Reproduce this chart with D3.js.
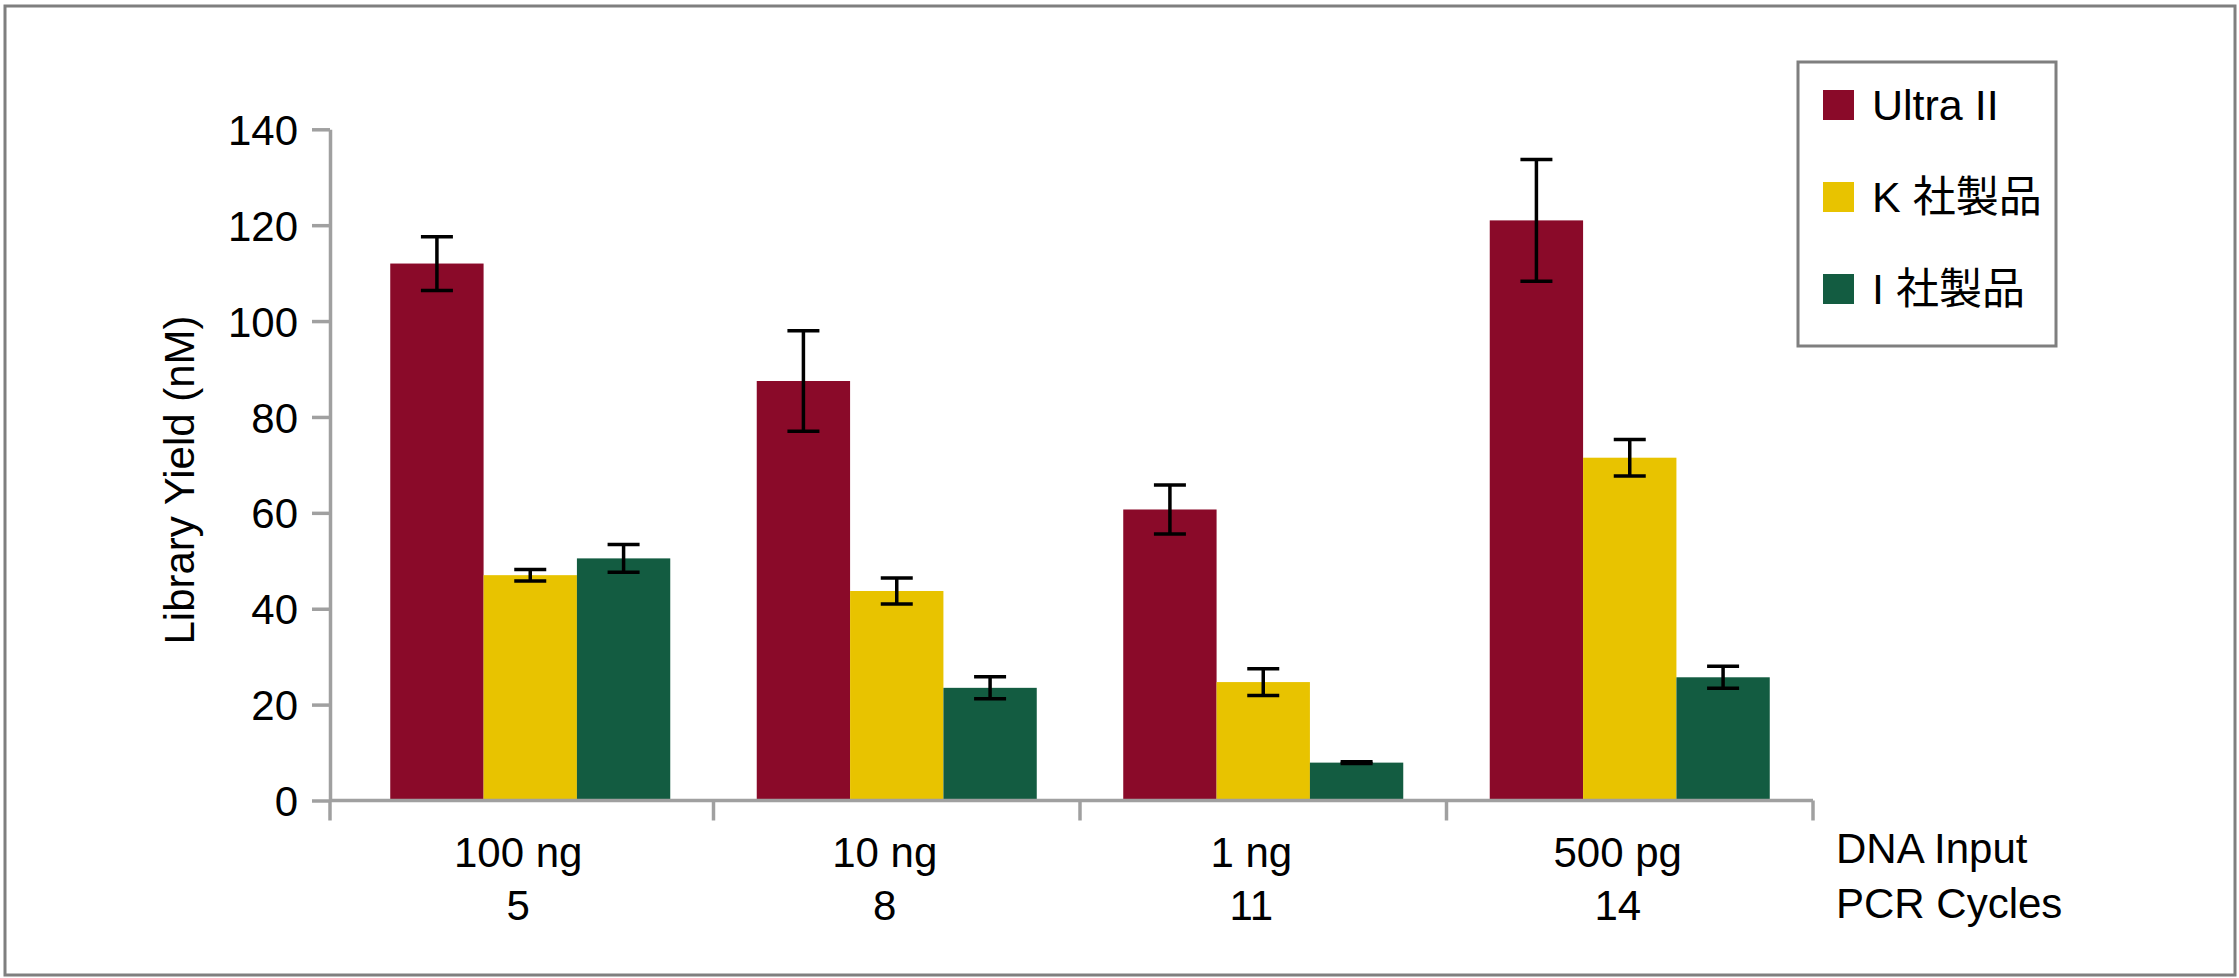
<!DOCTYPE html>
<html>
<head>
<meta charset="utf-8">
<script src="https://cdn.jsdelivr.net/npm/d3@7"></script>
<style>
  body { margin: 0; background: #fff; }
  svg text { font-family: "Liberation Sans", Arial, "Noto Sans CJK JP", sans-serif; fill: #000; }
</style>
</head>
<body>
<svg id="chart" width="2239" height="978"></svg>
<script>
// chart values
var categories = ["100 ng", "10 ng", "1 ng", "500 pg"];
var cycles = ["5", "8", "11", "14"];
var series = ["Ultra II", "K 社製品", "I 社製品"];
var ultraII = [112, 87.5, 60.7, 121];
var ultraIIErr = [5.6, 10.5, 5.1, 12.7];
var kProduct = [47, 43.7, 24.7, 71.5];
var kProductErr = [1.2, 2.7, 2.8, 3.8];
var iProduct = [50.5, 23.5, 7.9, 25.7];
var iProductErr = [2.9, 2.3, 0.2, 2.3];
var yTicks = [0, 20, 40, 60, 80, 100, 120, 140];

var colors = ["#8a0a29", "#e8c300", "#135c41"];
var values = [ultraII, kProduct, iProduct];
var errors = [ultraIIErr, kProductErr, iProductErr];

var svg = d3.select("#chart");

// outer frame
svg.append("rect")
    .attr("x", 5).attr("y", 6)
    .attr("width", 2230).attr("height", 969)
    .attr("fill", "none")
    .attr("stroke", "#7f7f7f")
    .attr("stroke-width", 3);

var axisLeftX = 330;
var y = d3.scaleLinear().domain([0, 140]).range([800.5, 129.3]);

var x0 = d3.scaleBand().domain(categories).range([347, 1813]);
var groupWidth = x0.bandwidth() * 0.764;
var x1 = d3.scaleBand().domain(series)
    .range([(x0.bandwidth() - groupWidth) / 2, (x0.bandwidth() + groupWidth) / 2]);

// bars
var rows = [];
categories.forEach(function (c, i) {
    series.forEach(function (s, j) {
        rows.push({ cat: c, ser: s, j: j, v: values[j][i], e: errors[j][i] });
    });
});

svg.selectAll("rect.bar")
    .data(rows)
    .enter().append("rect")
    .attr("class", "bar")
    .attr("x", function (d) { return x0(d.cat) + x1(d.ser); })
    .attr("width", x1.bandwidth())
    .attr("y", function (d) { return y(d.v); })
    .attr("height", function (d) { return y(0) - y(d.v); })
    .attr("fill", function (d) { return colors[d.j]; });

// error bars
var capHalf = 16;
var eb = svg.selectAll("g.err")
    .data(rows)
    .enter().append("g")
    .attr("class", "err")
    .attr("stroke", "#000")
    .attr("stroke-width", 3.5);

eb.append("line")
    .attr("x1", function (d) { return x0(d.cat) + x1(d.ser) + x1.bandwidth() / 2; })
    .attr("x2", function (d) { return x0(d.cat) + x1(d.ser) + x1.bandwidth() / 2; })
    .attr("y1", function (d) { return y(d.v + d.e); })
    .attr("y2", function (d) { return y(d.v - d.e); });
eb.append("line")
    .attr("x1", function (d) { return x0(d.cat) + x1(d.ser) + x1.bandwidth() / 2 - capHalf; })
    .attr("x2", function (d) { return x0(d.cat) + x1(d.ser) + x1.bandwidth() / 2 + capHalf; })
    .attr("y1", function (d) { return y(d.v + d.e); })
    .attr("y2", function (d) { return y(d.v + d.e); });
eb.append("line")
    .attr("x1", function (d) { return x0(d.cat) + x1(d.ser) + x1.bandwidth() / 2 - capHalf; })
    .attr("x2", function (d) { return x0(d.cat) + x1(d.ser) + x1.bandwidth() / 2 + capHalf; })
    .attr("y1", function (d) { return y(d.v - d.e); })
    .attr("y2", function (d) { return y(d.v - d.e); });

// y axis
var yAxis = svg.append("g")
    .attr("transform", "translate(" + axisLeftX + ",0)")
    .call(d3.axisLeft(y).tickValues(yTicks).tickSize(18).tickSizeOuter(0).tickPadding(14));
yAxis.select(".domain").attr("stroke", "#a0a0a0").attr("stroke-width", 3.5);
yAxis.selectAll(".tick line").attr("stroke", "#a0a0a0").attr("stroke-width", 3.5);
yAxis.selectAll(".tick text")
    .attr("font-size", 42)
    .attr("dy", "0.36em")
    .style("font-family", "'Liberation Sans', Arial, sans-serif")
    .attr("fill", "#000");

// x axis line and category boundary ticks
svg.append("line")
    .attr("x1", axisLeftX).attr("x2", x0.range()[1])
    .attr("y1", y(0)).attr("y2", y(0))
    .attr("stroke", "#a0a0a0").attr("stroke-width", 3.5);

var bounds = [axisLeftX].concat(categories.slice(1).map(function (c) { return x0(c); }), [x0.range()[1]]);
svg.selectAll("line.xtick")
    .data(bounds)
    .enter().append("line")
    .attr("class", "xtick")
    .attr("x1", function (d) { return d; })
    .attr("x2", function (d) { return d; })
    .attr("y1", y(0))
    .attr("y2", y(0) + 20)
    .attr("stroke", "#a0a0a0").attr("stroke-width", 3.5);

// category labels
svg.selectAll("text.cat")
    .data(categories)
    .enter().append("text")
    .attr("class", "cat")
    .attr("x", function (d) { return x0(d) + x0.bandwidth() / 2 - 12; })
    .attr("y", 867)
    .attr("text-anchor", "middle")
    .attr("font-size", 42)
    .text(function (d) { return d; });

svg.selectAll("text.cyc")
    .data(cycles)
    .enter().append("text")
    .attr("class", "cyc")
    .attr("x", function (d, i) { return x0(categories[i]) + x0.bandwidth() / 2 - 12; })
    .attr("y", 920)
    .attr("text-anchor", "middle")
    .attr("font-size", 42)
    .text(function (d) { return d; });

svg.append("text")
    .attr("x", 1836).attr("y", 863)
    .attr("font-size", 42)
    .text("DNA Input");
svg.append("text")
    .attr("x", 1836).attr("y", 918)
    .attr("font-size", 42)
    .text("PCR Cycles");

// y axis title
svg.append("text")
    .attr("transform", "translate(194,480) rotate(-90)")
    .attr("text-anchor", "middle")
    .attr("font-size", 42)
    .text("Library Yield (nM)");

// legend
var legend = svg.append("g");
legend.append("rect")
    .attr("x", 1798).attr("y", 62)
    .attr("width", 258).attr("height", 284)
    .attr("fill", "#fff")
    .attr("stroke", "#7f7f7f")
    .attr("stroke-width", 3);

var item = legend.selectAll("g.item")
    .data(series)
    .enter().append("g")
    .attr("class", "item")
    .attr("transform", function (d, i) { return "translate(1823," + (90 + i * 92) + ")"; });
item.append("rect")
    .attr("width", 31).attr("height", 30)
    .attr("fill", function (d, i) { return colors[i]; });
item.append("text")
    .attr("x", 49).attr("y", 30)
    .attr("font-size", 43)
    .text(function (d) { return d; });
</script>
</body>
</html>
